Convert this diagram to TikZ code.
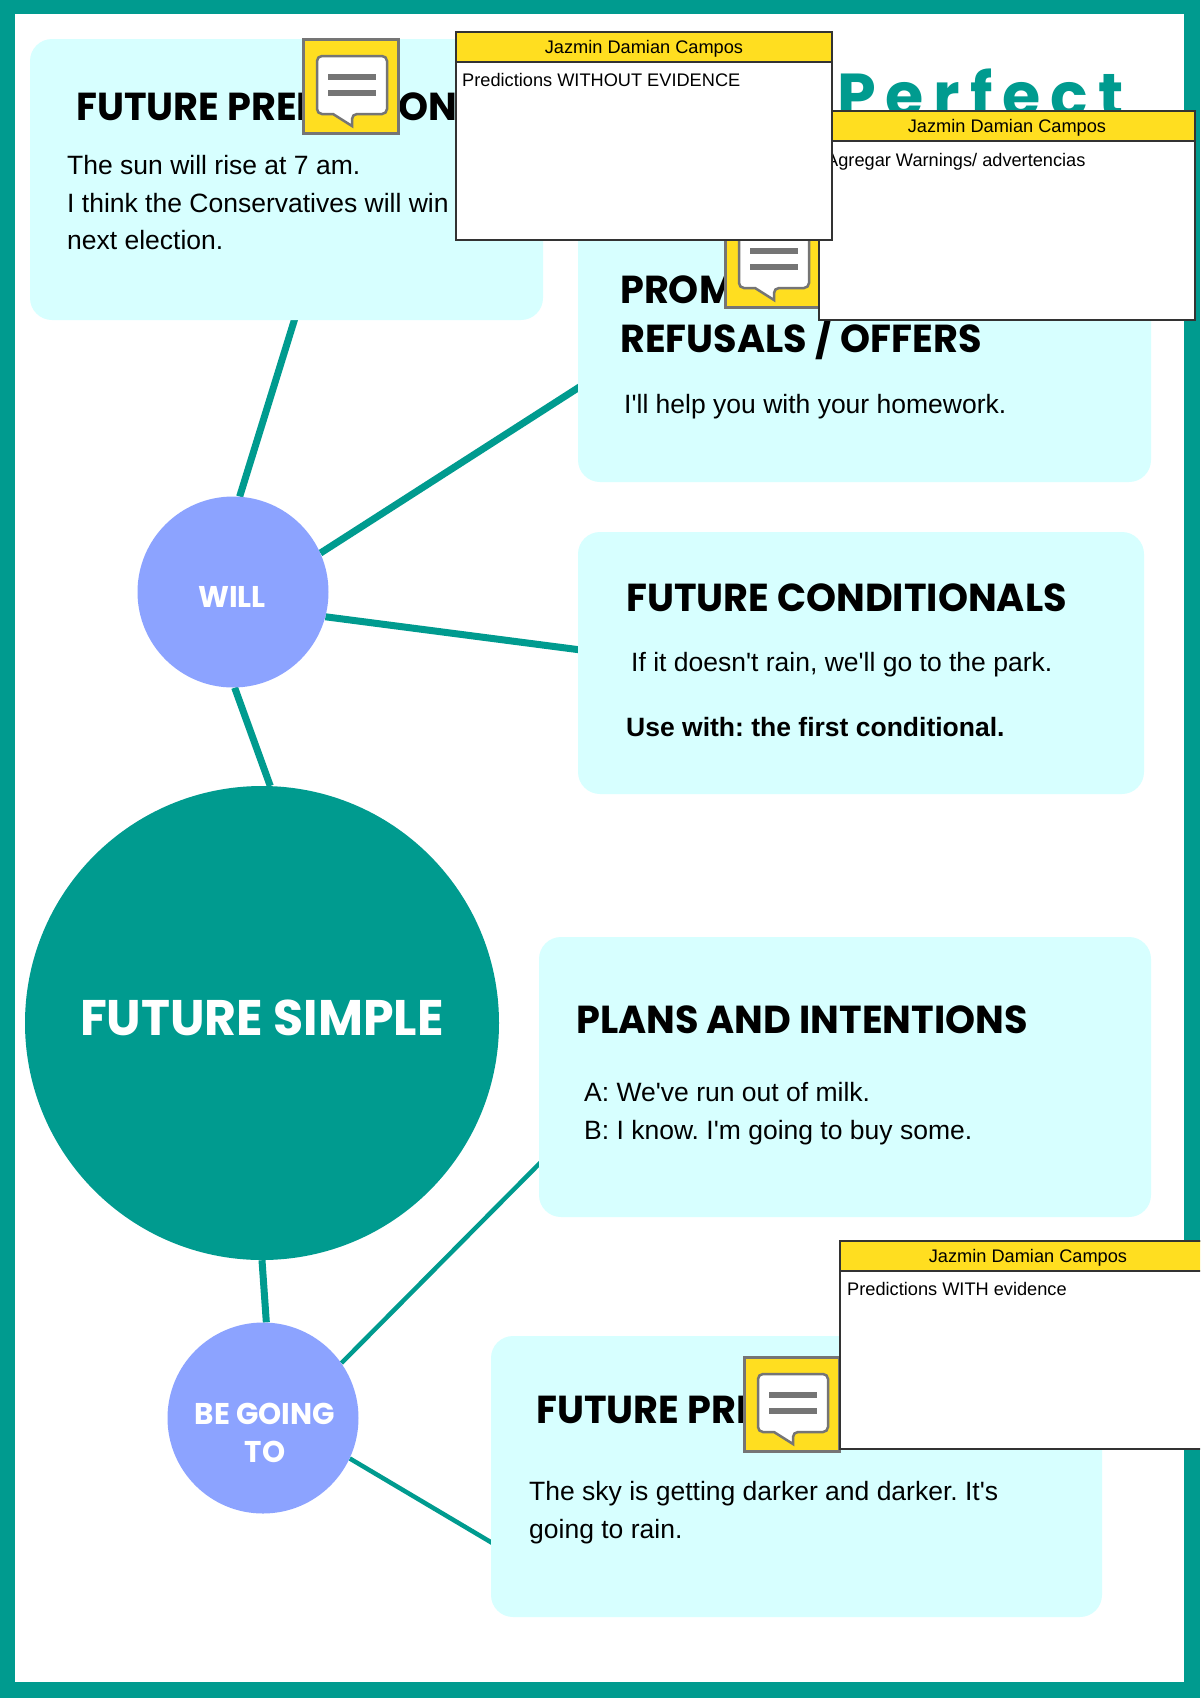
\documentclass[tikz,border=0pt]{standalone}
\usepackage{fontspec}
\setmainfont{Liberation Sans}
\newfontfamily\headfont[FakeStretch=0.98]{Poppins}
\newfontfamily\logofont[LetterSpace=16]{Poppins}
\usetikzlibrary{backgrounds}
\definecolor{frameteal}{RGB}{0,155,143}
\definecolor{cardcyan}{RGB}{215,255,255}
\definecolor{bluedot}{RGB}{140,163,255}
\definecolor{noteyellow}{RGB}{255,222,32}
\definecolor{notegray}{RGB}{117,117,117}
\begin{document}
\frenchspacing
\begin{tikzpicture}[x=1pt,y=-1pt]
  \tikzset{ card/.style={fill=cardcyan,rounded corners=22pt,inner sep=0pt},
    dot/.style={circle,fill=bluedot,inner sep=0pt,minimum size=191pt},
    link/.style={frameteal,line width=7pt},
    thinlink/.style={frameteal,line width=4.5pt},
    head/.style={anchor=base west,inner sep=0pt,font=\headfont\bfseries\fontsize{39}{47}\selectfont},
    whitehead/.style={white,anchor=base,inner sep=0pt,font=\headfont\bfseries\fontsize{30}{36}\selectfont},
    body/.style={anchor=base west,inner sep=0pt,font=\fontsize{26.5}{32}\selectfont},
    notebox/.style={draw=black!80,fill=white,line width=1.1pt,inner sep=0pt,minimum width=376pt,minimum height=208pt},
    notehead/.style={draw=black!80,fill=noteyellow,line width=1.1pt,inner sep=0pt,minimum width=376pt,minimum height=30pt,text height=15pt,text depth=2pt,font=\fontsize{18.2}{22}\selectfont},
    notetext/.style={anchor=base west,inner sep=0pt,font=\fontsize{18.2}{22}\selectfont},
    noteicon/.pic={
      \draw[notegray,fill=noteyellow,line width=3pt] (1.5,1.5) rectangle (96.5,95.5);
      \draw[notegray,fill=white,line width=2.5pt,rounded corners=5pt] (15,18) -- (85,18) -- (85,76) -- (50,76) [sharp corners] -- (50,88) -- (31,76) [rounded corners=5pt] -- (15,76) -- cycle;
      \draw[notegray,line width=6pt] (26,39) -- (74,39);
      \draw[notegray,line width=6pt] (26,55) -- (74,55);
    },
  }
  \useasboundingbox (0,0) rectangle (1200,1698);
  \clip (0,0) rectangle (1200,1698);

  \begin{pgfonlayer}{background}
    \fill[frameteal] (0,0) rectangle (1200,1698);
    \fill[white] (15,14) rectangle (1184,1682);
  \end{pgfonlayer}

  % the logo sits behind the notes
  \node[anchor=base west,inner sep=0pt,frameteal,font=\logofont\bfseries\fontsize{62}{70}\selectfont] (logo) at (837,117) {Perfect};

  \node[card,minimum width=513pt,minimum height=281pt] (C1) at (286.5,179.5) {};
  \node[card,minimum width=573pt,minimum height=281pt] (C2) at (864.5,341.5) {};
  \node[card,minimum width=566pt,minimum height=262pt] (C3) at (861,663) {};
  \node[card,minimum width=612pt,minimum height=280pt] (C4) at (845,1077) {};
  \node[card,minimum width=611pt,minimum height=281pt] (C5) at (796.5,1476.5) {};

  \node[circle,fill=frameteal,inner sep=0pt,minimum size=474pt] (FS) at (262,1023) {};
  \node[dot] (W) at (233,592) {};
  \node[dot] (G) at (263,1418) {};

  \node[white,anchor=base,inner sep=0pt,font=\headfont\bfseries\fontsize{50}{60}\selectfont] (FStext) at (262,1035) {FUTURE SIMPLE};
  \node[whitehead] (Wtext) at (232,607) {WILL};
  \node[whitehead] (G1text) at (265,1424) {BE GOING};
  \node[whitehead] (G2text) at (265,1462) {TO};

  % free ends just inside the cards
  \coordinate (c1) at (295,318);
  \coordinate (c2) at (581,386);
  \coordinate (c3) at (581,650);
  \coordinate (c4) at (541,1162);
  \coordinate (c5) at (494,1544);

  % the connection between the dots and the cards
  \begin{pgfonlayer}{background}
    \draw[link] (W.86) -- (c1);
    \draw[link] (W.24) -- (c2);
    \draw[link] (W.-15) -- (c3);
    \draw[link] (W.-89) -- (FS.88);
    \draw[link] (FS.-90) -- (G.88);
    \draw[thinlink] (G.35) -- (c4);
    \draw[thinlink] (G.-25) -- (c5);
  \end{pgfonlayer}

  \node[head] (h1) at (76,120) {FUTURE PREDICTION};
  \node[body] (t11) at (67,174) {The sun will rise at 7 am.};
  \node[body] (t12) at (67,212) {I think the Conservatives will win};
  \node[body] (t13) at (67,249) {next election.};

  \node[head] (h21) at (620,303) {PROMISES /};
  \node[head] (h22) at (620,352) {REFUSALS / OFFERS};
  \node[body] (t21) at (624,413) {I\textquotesingle ll help you with your homework.};

  \node[head] (h3) at (626,611) {FUTURE CONDITIONALS};
  \node[body] (t31) at (631,671) {If it doesn\textquotesingle t rain, we\textquotesingle ll go to the park.};
  \node[body,font=\bfseries\fontsize{26.5}{32}\selectfont] (t32) at (626,736) {Use with: the first conditional.};

  \node[head] (h4) at (576,1033) {PLANS AND INTENTIONS};
  \node[body] (t41) at (584,1101) {A: We\textquotesingle ve run out of milk.};
  \node[body] (t42) at (584,1139) {B: I know. I\textquotesingle m going to buy some.};

  \node[head] (h5) at (536,1423) {FUTURE PREDICTION};
  \node[body] (t51) at (529,1500) {The sky is getting darker and darker. It\textquotesingle s};
  \node[body] (t52) at (529,1538) {going to rain.};

  \pic at (302,38) {noteicon};
  \pic at (724,212) {noteicon};
  \pic at (743,1356) {noteicon};

  % second note first, the first note lies over its edge
  \node[notebox,minimum height=209pt] (N2) at (1007,215.5) {};
  \node[notehead] (N2h) at (1007,126) {Jazmin Damian Campos};
  \node[notetext] (N2t) at (826,166) {Agregar Warnings/ advertencias};

  \node[notebox] (N1) at (644,136) {};
  \node[notehead] (N1h) at (644,47) {Jazmin Damian Campos};
  \node[notetext] (N1t) at (462,86) {Predictions WITHOUT EVIDENCE};

  \node[notebox] (N3) at (1028,1345) {};
  \node[notehead] (N3h) at (1028,1256) {Jazmin Damian Campos};
  \node[notetext] (N3t) at (847,1295) {Predictions WITH evidence};
\end{tikzpicture}
\end{document}
